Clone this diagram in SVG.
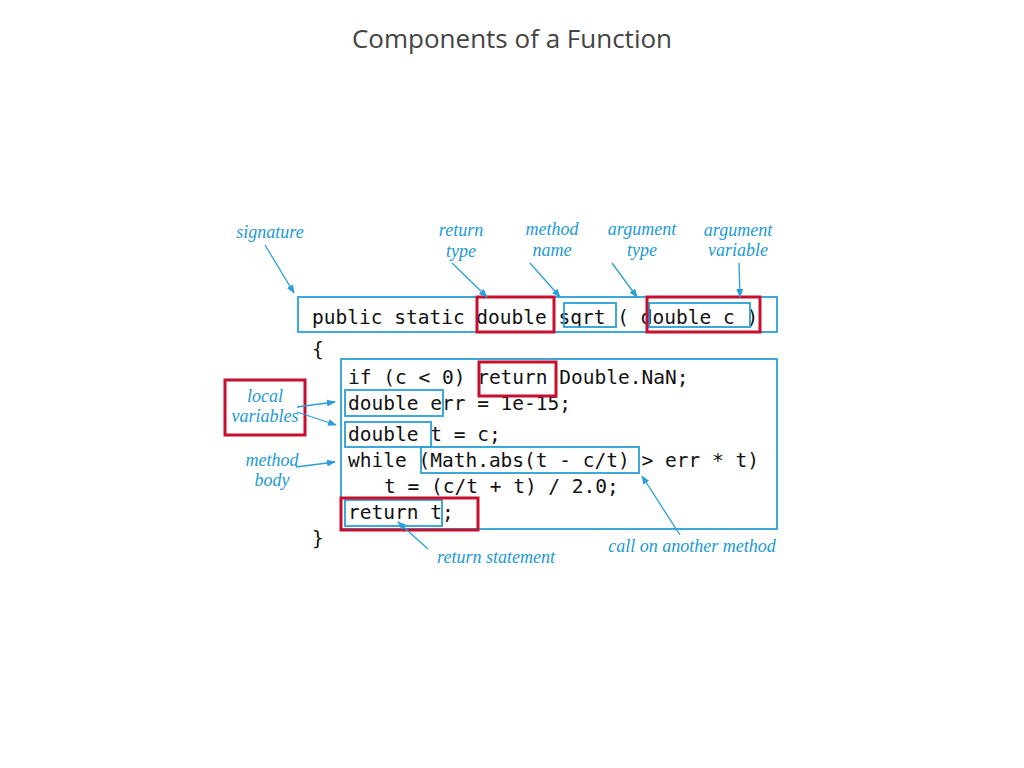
<svg xmlns="http://www.w3.org/2000/svg" width="1024" height="768" viewBox="0 0 1024 768">
<style>
.code{font-family:"DejaVu Sans Mono","Liberation Mono",monospace;font-size:19.5px;fill:#111}
.lbl{font-family:"Liberation Serif",serif;font-style:italic;font-size:18px;fill:#1b9ad7;text-anchor:middle}
.b{fill:none;stroke:#2a9fd8;stroke-width:1.8}
.r{fill:none;stroke:#c8102e;stroke-width:3}
.a{stroke:#2a9fd8;stroke-width:1.3;fill:none;marker-end:url(#ah)}
</style>
<defs><marker id="ah" markerWidth="9" markerHeight="7" refX="8" refY="3.5" orient="auto" markerUnits="userSpaceOnUse"><path d="M0,0L9,3.5L0,7z" fill="#2a9fd8"/></marker></defs>
<rect width="1024" height="768" fill="#fff"/>
<text x="512" y="48" text-anchor="middle" font-family="'Open Sans',sans-serif" font-size="26" fill="#444">Components of a Function</text>
<g id="code">
<text class="code" x="312" y="324">public static double sqrt ( double c )</text>
<text class="code" x="312" y="356">{</text>
<text class="code" x="348" y="384">if (c &lt; 0) return Double.NaN;</text>
<text class="code" x="348" y="410">double err = 1e-15;</text>
<text class="code" x="348" y="441">double t = c;</text>
<text class="code" x="348" y="467">while (Math.abs(t - c/t) &gt; err * t)</text>
<text class="code" x="384" y="493">t = (c/t + t) / 2.0;</text>
<text class="code" x="348" y="519">return t;</text>
<text class="code" x="312" y="545">}</text>
</g>
<g id="boxes">
<rect id="signature-box" class="b" x="298" y="297" width="479" height="35"/>
<rect class="b" x="564" y="303" width="52" height="24"/>
<rect class="b" x="649" y="303" width="101" height="24"/>
<rect id="body-box" class="b" x="341" y="359" width="436" height="170"/>
<rect class="b" x="345" y="390" width="98" height="26"/>
<rect class="b" x="345" y="422" width="86" height="25"/>
<rect class="b" x="421" y="447" width="218" height="26"/>
<rect class="b" x="345" y="500" width="97" height="26"/>
<rect class="r" x="477" y="297" width="77" height="35"/>
<rect class="r" x="647" y="297" width="113" height="35"/>
<rect class="r" x="479" y="362" width="77" height="34"/>
<rect class="r" x="341" y="498" width="137" height="32"/>
<rect class="r" x="225" y="380" width="80" height="55"/>
</g>
<g id="labels">
<text class="lbl" x="270" y="238">signature</text>
<text class="lbl" x="461" y="236">return</text><text class="lbl" x="461" y="257">type</text>
<text class="lbl" x="552" y="235">method</text><text class="lbl" x="552" y="256">name</text>
<text class="lbl" x="642" y="235">argument</text><text class="lbl" x="642" y="256">type</text>
<text class="lbl" x="738" y="236">argument</text><text class="lbl" x="738" y="256">variable</text>
<text class="lbl" x="265" y="402">local</text><text class="lbl" x="265" y="422">variables</text>
<text class="lbl" x="272" y="466">method</text><text class="lbl" x="272" y="486">body</text>
<text class="lbl" x="496" y="563">return statement</text>
<text class="lbl" x="692" y="552">call on another method</text>
</g>
<g id="connectors">
<path class="a" d="M265,245L294,293"/>
<path class="a" d="M452,263L487,297"/>
<path class="a" d="M530,263L560,297"/>
<path class="a" d="M612,263L637,297"/>
<path class="a" d="M739,263L740,297"/>
<path class="a" d="M297,407L335,402"/>
<path class="a" d="M297,412L336,425"/>
<path class="a" d="M296,467L335,462"/>
<path class="a" d="M428,549L398,522"/>
<path class="a" d="M680,535L642,476"/>
</g>
</svg>
